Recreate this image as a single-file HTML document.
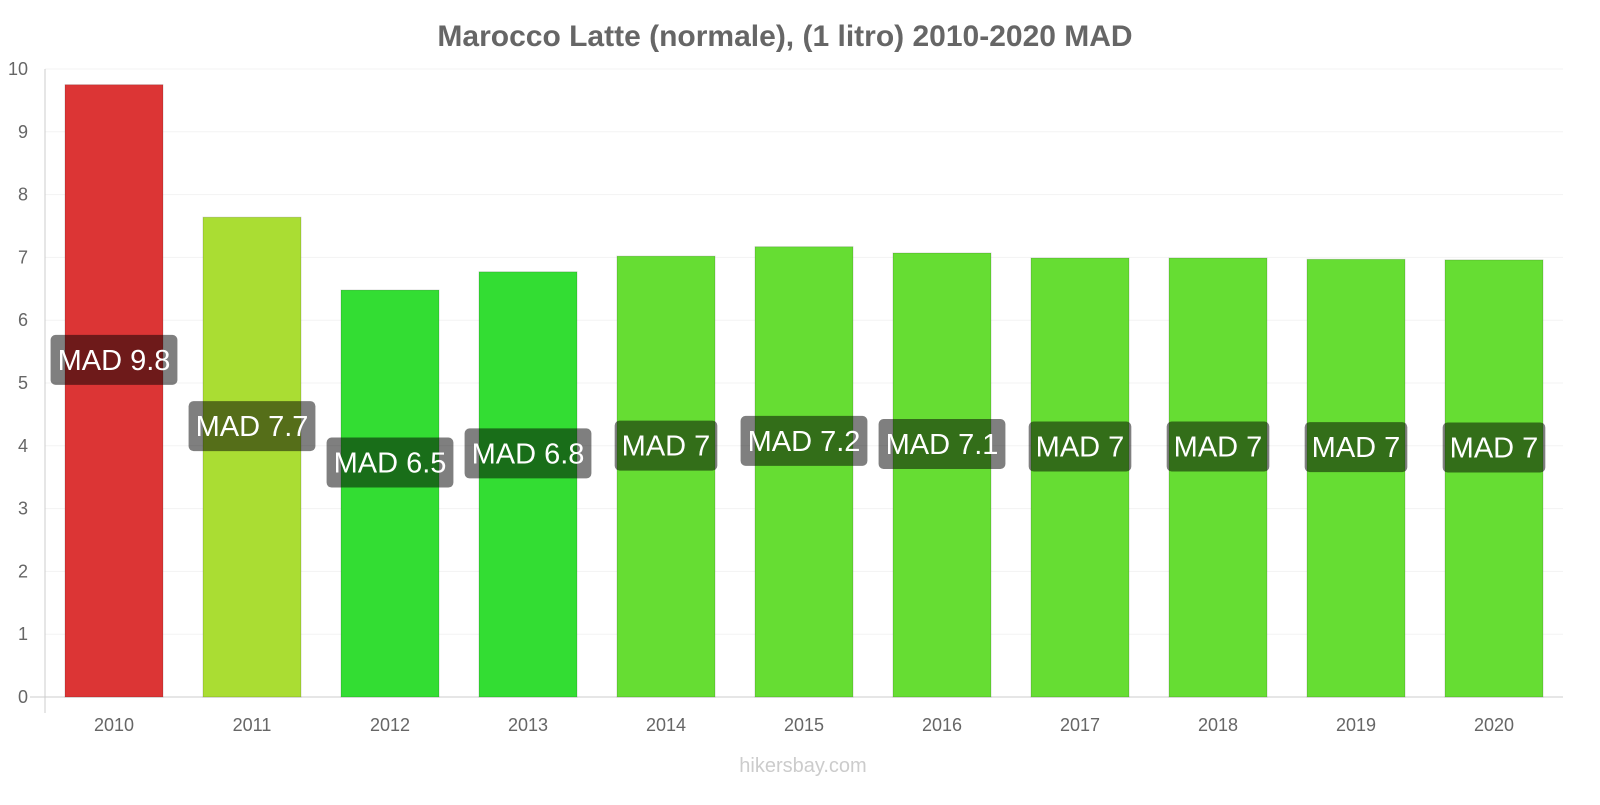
<!DOCTYPE html>
<html><head><meta charset="utf-8"><style>
body{margin:0;background:#fff;width:1600px;height:800px;overflow:hidden;font-family:"Liberation Sans",sans-serif}
</style></head><body>
<svg width="1600" height="800" xmlns="http://www.w3.org/2000/svg" id="chart">
<text x="785" y="46" text-anchor="middle" font-size="30" font-weight="bold" fill="#666">Marocco Latte (normale), (1 litro) 2010-2020 MAD</text>
<text x="803" y="772" text-anchor="middle" font-size="20" fill="#ccc">hikersbay.com</text>
</svg>
<script>
const categories=["2010","2011","2012","2013","2014","2015","2016","2017","2018","2019","2020"];
const values=[9.75,7.64,6.48,6.77,7.02,7.17,7.07,6.99,6.99,6.97,6.96];
const labels=["MAD 9.8","MAD 7.7","MAD 6.5","MAD 6.8","MAD 7","MAD 7.2","MAD 7.1","MAD 7","MAD 7","MAD 7","MAD 7"];
const colors=["#dc3535","#aadd33","#33dd33","#33dd33","#66dd33","#66dd33","#66dd33","#66dd33","#66dd33","#66dd33","#66dd33"];
const yTicks=[0,1,2,3,4,5,6,7,8,9,10];
const svg=document.getElementById('chart');
const NS="http://www.w3.org/2000/svg";
const x0=45,x1=1563,y0=697,y10=69;
const band=(x1-x0)/categories.length;
const y=v=>y0-(y0-y10)*v/10;
const xc=i=>x0+band*(i+0.5);
function mk(t,a){const e=document.createElementNS(NS,t);for(const k in a)e.setAttribute(k,a[k]);svg.appendChild(e);return e;}
yTicks.forEach(t=>{
  if(t>0){const g=mk('line',{x1:x0,x2:x1,y1:y(t),y2:y(t),stroke:'#f3f3f3','stroke-width':1});
  
  }
  const l=mk('text',{x:28,y:y(t)+6,'text-anchor':'end','font-size':18,fill:'#666'});
  
  
  l.textContent=t;
});
const ya=mk('line',{x1:x0,x2:x0,y1:y10,y2:713,stroke:'#ccc'});


const xa=mk('line',{x1:30,x2:x1,y1:y0,y2:y0,stroke:'#ccc'});


categories.forEach((c,i)=>{
  const bw=98,top=y(values[i]);
  const r=mk('rect',{x:xc(i)-bw/2,y:top,width:bw,height:y0-top,fill:colors[i],stroke:'rgba(0,0,0,0.15)'});
  
  
  const t=mk('text',{x:xc(i),y:731,'text-anchor':'middle','font-size':18,fill:'#666'});
  
  
  t.textContent=c;
  const cy=(top+y0)/2-31;
  const lbl=mk('text',{x:xc(i),y:cy+10,'text-anchor':'middle','font-size':29,fill:'#fff'});
  lbl.textContent=labels[i];
  const w=lbl.getComputedTextLength()+14;
  const bg=mk('rect',{x:xc(i)-w/2,y:cy-25,width:w,height:50,rx:5,fill:'rgba(0,0,0,0.5)'});
  
  
  svg.appendChild(lbl);
  
  
});
</script>
</body></html>
